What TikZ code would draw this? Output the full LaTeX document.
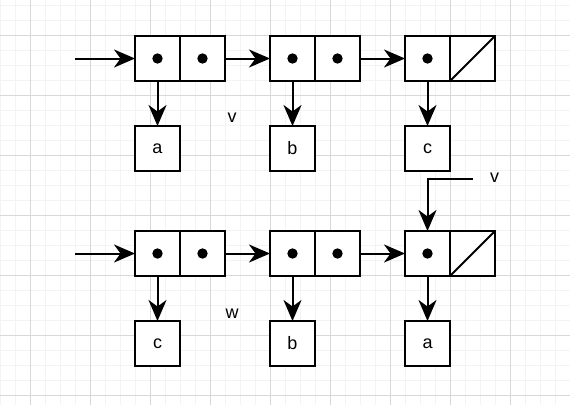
\documentclass[tikz,border=0pt]{standalone}
\usepackage{fontspec}
\setmainfont{Liberation Sans}
\usetikzlibrary{arrows.meta}
\definecolor{gridminor}{HTML}{F3F3F3}
\definecolor{gridmajor}{HTML}{D8D8D8}
\tikzset{
  cell/.style={draw=black, line width=2pt, fill=white, minimum width=45pt, minimum height=45pt, inner sep=0pt, outer sep=0pt, font=\fontsize{18pt}{21pt}\selectfont},
  conn/.style={line width=2pt, arrows={-Stealth[length=21pt,width=18pt,inset=6.5pt]}},
  lbl/.style={font=\fontsize{18pt}{21pt}\selectfont, inner sep=0pt},
}
\begin{document}
\begin{tikzpicture}[x=1pt,y=-1pt]
\useasboundingbox (0,0) rectangle (570,405);
\fill[white] (0,0) rectangle (570,405);
% grid
\foreach \i in {0,...,38} {\draw[gridminor, line width=1pt] (\i*15+0.5,0) -- (\i*15+0.5,405);}
\foreach \j in {0,...,27} {\draw[gridminor, line width=1pt] (0,\j*15+5.5) -- (570,\j*15+5.5);}
\foreach \i in {0,...,9} {\draw[gridmajor, line width=1pt] (\i*60+30.5,0) -- (\i*60+30.5,405);}
\foreach \j in {0,...,6} {\draw[gridmajor, line width=1pt] (0,\j*60+35.5) -- (570,\j*60+35.5);}

% row 1
\node[cell] (p1a) at (157.5,58.5) {};
\node[cell] (p1b) at (202.5,58.5) {};
\node[cell] (p2a) at (292.5,58.5) {};
\node[cell] (p2b) at (337.5,58.5) {};
\node[cell] (p3a) at (427.5,58.5) {};
\node[cell] (p3b) at (472.5,58.5) {};
\node[cell] (va) at (157.5,148.5) {a};
\node[cell] (vb) at (292.5,148.5) {b};
\node[cell] (vc) at (427.5,148.5) {c};
\foreach \n in {p1a,p1b,p2a,p2b,p3a} {\fill (\n) circle (5.2pt);}
\draw[line width=2pt] (p3b.south west) -- (p3b.north east);
\coordinate (in1) at (75,58.5);
\draw[conn] (in1) -- (p1a.west);
\draw[conn] (p1b.east) -- (p2a.west);
\draw[conn] (p2b.east) -- (p3a.west);
\draw[conn] (p1a.south) -- (va.north);
\draw[conn] (p2a.south) -- (vb.north);
\draw[conn] (p3a.south) -- (vc.north);
\node[lbl] (lv) at (232,118) {v};

% row 2
\node[cell] (q1a) at (157.5,253.5) {};
\node[cell] (q1b) at (202.5,253.5) {};
\node[cell] (q2a) at (292.5,253.5) {};
\node[cell] (q2b) at (337.5,253.5) {};
\node[cell] (q3a) at (427.5,253.5) {};
\node[cell] (q3b) at (472.5,253.5) {};
\node[cell] (wc) at (157.5,343.5) {c};
\node[cell] (wb) at (292.5,343.5) {b};
\node[cell] (wa) at (427.5,343.5) {a};
\foreach \n in {q1a,q1b,q2a,q2b,q3a} {\fill (\n) circle (5.2pt);}
\draw[line width=2pt] (q3b.south west) -- (q3b.north east);
\coordinate (in2) at (75,253.5);
\draw[conn] (in2) -- (q1a.west);
\draw[conn] (q1b.east) -- (q2a.west);
\draw[conn] (q2b.east) -- (q3a.west);
\draw[conn] (q1a.south) -- (wc.north);
\draw[conn] (q2a.south) -- (wb.north);
\draw[conn] (q3a.south) -- (wa.north);
\node[lbl] (lw) at (232,314) {w};

% v pointer
\coordinate (vs) at (472.5,178.5);
\draw[conn] (vs) -| (q3a.north);
\node[lbl] (lv2) at (494.5,178) {v};
\end{tikzpicture}
\end{document}
